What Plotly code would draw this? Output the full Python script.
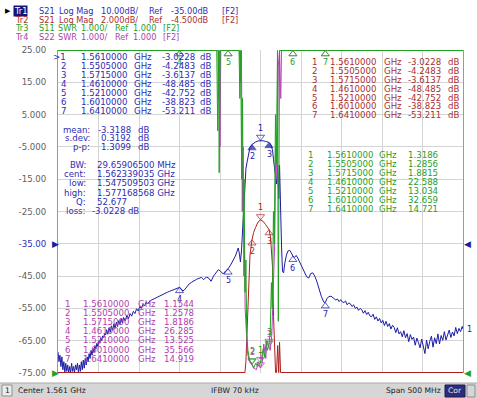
import numpy as np
import plotly.graph_objects as go

# ---------------- data ----------------
f_start, f_stop = 1.311, 1.811          # GHz  (center 1.561 GHz, span 500 MHz)
x_div_vals = [1.311, 1.361, 1.411, 1.461, 1.511, 1.561, 1.611, 1.661, 1.711, 1.761, 1.811]

# S21 (dB) - shown as Tr1 (10 dB/div) and Tr2 (2 dB/div)
s21_pts = [
    (1.3110, -68.5), (1.3122, -71.5), (1.3134, -69.5), (1.3146, -73.0), (1.3158, -70.0), (1.3170, -74.0),
    (1.3182, -71.5), (1.3194, -75.0), (1.3206, -72.0), (1.3218, -74.5), (1.3230, -72.5), (1.3242, -75.0),
    (1.3254, -73.0), (1.3266, -75.0), (1.3278, -72.0), (1.3290, -74.5), (1.3302, -73.0), (1.3314, -75.0),
    (1.3326, -72.5), (1.3338, -74.0), (1.3350, -72.0), (1.3362, -75.0), (1.3374, -72.5), (1.3386, -74.5),
    (1.3398, -71.5), (1.3410, -74.0), (1.3422, -71.0), (1.3434, -73.5), (1.3446, -70.5), (1.3458, -72.5),
    (1.3470, -70.0), (1.3482, -71.5), (1.3494, -69.0), (1.3506, -70.5), (1.3518, -68.0), (1.3530, -69.5),
    (1.3542, -67.5), (1.3554, -68.5), (1.3566, -66.5), (1.3578, -67.5), (1.3590, -65.8), (1.3602, -66.8),
    (1.3614, -65.0), (1.3626, -65.8), (1.3638, -64.2), (1.3650, -65.0), (1.3662, -63.5), (1.3674, -64.0),
    (1.3686, -62.8), (1.3698, -63.2),
    (1.3710, -61.6), (1.3725, -63.0), (1.3740, -61.0), (1.3755, -62.4), (1.3770, -60.4), (1.3785, -61.8),
    (1.3800, -59.8), (1.3815, -61.2), (1.3830, -59.3), (1.3845, -60.6), (1.3860, -58.8), (1.3875, -60.0),
    (1.3890, -58.2), (1.3905, -59.5), (1.3920, -57.8), (1.3940, -58.9), (1.3960, -57.2), (1.3980, -58.2),
    (1.4000, -56.6), (1.4020, -57.4), (1.4040, -55.9), (1.4060, -56.6), (1.4080, -55.1), (1.4100, -55.8),
    (1.4120, -54.4), (1.4140, -55.0), (1.4160, -53.7), (1.4180, -54.2), (1.4200, -53.0), (1.4220, -53.5),
    (1.4250, -52.6), (1.4280, -52.2), (1.4310, -51.8), (1.4340, -51.5),
    (1.4370, -51.2), (1.4400, -50.8), (1.4430, -50.4), (1.4460, -50.0), (1.4490, -49.7), (1.4520, -49.4),
    (1.4550, -49.0), (1.4580, -48.8), (1.4610, -48.485), (1.4630, -48.9), (1.4650, -49.6), (1.4670, -49.3),
    (1.4700, -48.2), (1.4730, -47.4), (1.4760, -46.9), (1.4790, -46.4), (1.4820, -46.0), (1.4850, -45.7),
    (1.4880, -45.4), (1.4910, -46.1), (1.4940, -45.3), (1.4970, -45.6), (1.5000, -46.6), (1.5030, -45.0),
    (1.5060, -43.8), (1.5090, -43.0), (1.5120, -43.6), (1.5150, -44.3), (1.5180, -43.4), (1.5210, -42.752),
    (1.5240, -41.6), (1.5270, -40.4), (1.5300, -38.8), (1.5320, -37.4), (1.5335, -36.3), (1.5350, -38.2),
    (1.5362, -40.6), (1.5375, -37.2), (1.5390, -30.0), (1.5405, -20.0), (1.5418, -14.0), (1.5430, -11.8),
    (1.5445, -9.6), (1.5461, -6.9), (1.5480, -5.2), (1.5505, -4.2483), (1.5525, -3.8), (1.5548, -3.5),
    (1.5580, -3.15), (1.5610, -3.0228), (1.5640, -3.1), (1.5672, -3.3), (1.5715, -3.6137), (1.5734, -4.1),
    (1.5758, -5.9), (1.5771, -9.0), (1.5785, -11.6), (1.5796, -13.8), (1.5808, -16.5), (1.5822, -10.8),
    (1.5835, -21.0), (1.5845, -10.6), (1.5858, -27.0), (1.5870, -36.0), (1.5882, -43.5), (1.5895, -44.0),
    (1.5910, -41.0), (1.5930, -38.5), (1.5950, -37.2), (1.5970, -37.0), (1.5990, -37.8), (1.6010, -38.823),
    (1.6030, -39.2), (1.6050, -38.6), (1.6070, -39.4), (1.6095, -40.8), (1.6120, -42.2), (1.6150, -43.8),
    (1.6180, -45.2), (1.6205, -45.6), (1.6230, -44.2), (1.6255, -44.0), (1.6280, -45.0), (1.6305, -46.6),
    (1.6330, -48.8), (1.6360, -51.2), (1.6390, -53.0), (1.6410, -53.211), (1.6430, -52.0), (1.6450, -51.4),
    (1.6480, -51.2), (1.6500, -51.6),
    (1.652, -51.8), (1.654, -52.4), (1.656, -52.1), (1.658, -52.9), (1.660, -52.3), (1.662, -53.0),
    (1.664, -53.2), (1.666, -52.7), (1.668, -53.9), (1.670, -53.3), (1.672, -53.6), (1.674, -54.4),
    (1.676, -53.9), (1.678, -55.0), (1.680, -54.6), (1.682, -55.6), (1.684, -55.0), (1.686, -55.4),
    (1.688, -56.5), (1.690, -55.7), (1.692, -56.9), (1.694, -56.2), (1.696, -57.3), (1.698, -57.6),
    (1.700, -56.8), (1.702, -58.4), (1.704, -57.6), (1.706, -58.9), (1.708, -58.1), (1.710, -59.5),
    (1.712, -58.7), (1.714, -60.3), (1.716, -59.0), (1.718, -60.6), (1.720, -59.7), (1.722, -61.4),
    (1.724, -60.2), (1.726, -60.9), (1.728, -62.5), (1.730, -61.0), (1.732, -62.9), (1.734, -62.2),
    (1.736, -63.8), (1.738, -61.9), (1.740, -64.1), (1.742, -62.8), (1.744, -65.3), (1.746, -63.1),
    (1.748, -64.6), (1.750, -63.9), (1.752, -66.4), (1.754, -64.2), (1.756, -65.6), (1.758, -67.2),
    (1.760, -64.5), (1.762, -66.9), (1.764, -69.0), (1.766, -64.8), (1.768, -67.5), (1.770, -65.2),
    (1.772, -63.6), (1.774, -67.0), (1.776, -64.1), (1.778, -65.9), (1.780, -62.9), (1.782, -66.0),
    (1.784, -63.4), (1.786, -64.9), (1.788, -62.2), (1.790, -64.8), (1.792, -63.0), (1.794, -61.7),
    (1.796, -64.0), (1.798, -62.3), (1.800, -63.5), (1.802, -60.9), (1.804, -62.8), (1.806, -61.2),
    (1.808, -62.2), (1.810, -60.6), (1.811, -61.4),
]
s21_f = [p[0] for p in s21_pts]
s21_db = [p[1] for p in s21_pts]

# S11 SWR (Tr3)
s11_pts = [
    (1.3110, 28.0), (1.4000, 30.0), (1.4610, 22.588), (1.5070, 16.0), (1.5082, 8.5), (1.5092, 12.0),
    (1.5100, 7.2), (1.5112, 14.0), (1.5210, 13.034), (1.5345, 12.0), (1.5355, 9.5), (1.5365, 11.5),
    (1.5378, 7.0), (1.5388, 9.5), (1.5398, 5.5), (1.5408, 7.0), (1.5418, 3.5), (1.5430, 4.5),
    (1.5440, 2.2), (1.5455, 1.7), (1.5475, 1.4), (1.5505, 1.2856), (1.5525, 1.15), (1.5550, 1.3),
    (1.5575, 1.2), (1.5610, 1.3186), (1.5625, 1.5), (1.5645, 1.75), (1.5660, 1.5), (1.5680, 1.95),
    (1.5695, 1.7), (1.5715, 1.8815), (1.5730, 2.3), (1.5745, 3.8), (1.5755, 3.0), (1.5770, 6.0),
    (1.5780, 5.0), (1.5795, 9.0), (1.5805, 7.5), (1.5820, 11.5), (1.5830, 2.6), (1.5845, 12.0),
    (1.6010, 32.659), (1.6410, 14.721), (1.7000, 25.0), (1.8110, 28.0),
]
s11_f = [p[0] for p in s11_pts]
s11_swr = [p[1] for p in s11_pts]

# S22 SWR (Tr4)
s22_pts = [
    (1.3110, 30.0), (1.4610, 26.285), (1.5085, 20.0), (1.5095, 9.5), (1.5105, 13.0), (1.5110, 8.0),
    (1.5120, 14.0), (1.5210, 13.525), (1.5350, 12.0), (1.5365, 10.0), (1.5375, 11.2), (1.5385, 6.0),
    (1.5395, 8.0), (1.5405, 4.0), (1.5410, 5.5), (1.5420, 3.0), (1.5435, 2.2), (1.5450, 1.6),
    (1.5475, 1.35), (1.5505, 1.2578), (1.5530, 1.15), (1.5560, 1.1), (1.5580, 1.35), (1.5610, 1.1544),
    (1.5630, 1.3), (1.5650, 1.9), (1.5675, 1.45), (1.5690, 2.0), (1.5715, 1.8186), (1.5730, 1.7),
    (1.5750, 2.2), (1.5770, 3.5), (1.5785, 5.0), (1.5800, 8.0), (1.5815, 7.0), (1.5830, 10.5),
    (1.5845, 11.5), (1.5860, 9.5), (1.5870, 14.0), (1.6010, 35.566), (1.6410, 14.919), (1.7000, 25.0),
    (1.8110, 30.0),
]
s22_f = [p[0] for p in s22_pts]
s22_swr = [p[1] for p in s22_pts]

# markers
mk_freq = [1.5610000, 1.5505000, 1.5715000, 1.4610000, 1.5210000, 1.6010000, 1.6410000]
mk_s21 = [-3.0228, -4.2483, -3.6137, -48.485, -42.752, -38.823, -53.211]
mk_s11 = [1.3186, 1.2856, 1.8815, 22.588, 13.034, 32.659, 14.721]
mk_s22 = [1.1544, 1.2578, 1.8186, 26.285, 13.525, 35.566, 14.919]

stat_names = ["mean:", "s.dev:", "p-p:"]
stat_vals = [-3.3188, 0.3192, 1.3099]
bw_names = ["BW:", "cent:", "low:", "high:", "Q:", "loss:"]
bw_vals = ["29.65906500 MHz", "1.562339035 GHz", "1.547509503 GHz", "1.577168568 GHz", "52.677", "-3.0228 dB"]

y_tick_vals = [25, 15, 5, -5, -15, -25, -35, -45, -55, -65, -75]
y_tick_text = ["25.00", "15.00", "5.000", "-5.000", "-15.00", "-25.00", "-35.00", "-45.00", "-55.00", "-65.00", "-75.00"]

tr1_range = [-75, 25]
tr2_range = [-12.5, 7.5]
swr_range = [1, 11]

header_words = [
    ["Tr1", "S21", "Log Mag", "10.00dB/", "Ref", "-35.00dB", "[F2]"],
    ["Tr2", "S21", "Log Mag", "2.000dB/", "Ref", "-4.500dB", "[F2]"],
    ["Tr3", "S11", "SWR", "1.000/", "Ref", "1.000", "[F2]"],
    ["Tr4", "S22", "SWR", "1.000/", "Ref", "1.000", "[F2]"],
]
status_center = "Center 1.561 GHz"
status_ifbw = "IFBW 70 kHz"
status_span = "Span 500 MHz"

# ---------------- style / layout ----------------
W, H = 477, 398
L, R, T, B = 58, 463, 50, 373
PW, PH = R - L, B - T
FONT = "DejaVu Sans"
FS = 8.6
C_BLUE = "#1c1ca6"
C_RED = "#b01e1e"
C_GREEN = "#22a022"
C_MAG = "#bb44bb"
T_BLUE = "#2d2db4"
T_RED = "#a83030"
T_GREEN = "#2a9e2a"
T_MAG = "#b040b0"
GRID = "#d4d4d4"


def px(x):
    return (x - L) / PW


def py(y):
    return (B - y) / PH


def disp(vals, rng):
    eps = (rng[1] - rng[0]) / PH * 0.5
    return np.clip(np.asarray(vals, dtype=float), rng[0] + eps, rng[1] - eps)


ann = []


def txt(x, y, s, color, size=FS, anchor="left", family=FONT, **kw):
    d = dict(x=px(x), y=py(y), xref="paper", yref="paper", text=s, showarrow=False,
             xanchor=anchor, yanchor="middle", font=dict(family=family, size=size, color=color))
    d.update(kw)
    ann.append(d)


def fmt5(v):
    return f"{v:.4f}" if abs(v) < 10 else f"{v:.3f}"


fig = go.Figure()
fig.add_trace(go.Scatter(x=s22_f, y=disp(s22_swr, swr_range), yaxis="y3", mode="lines",
                         line=dict(color=C_MAG, width=1), hoverinfo="skip"))
fig.add_trace(go.Scatter(x=s11_f, y=disp(s11_swr, swr_range), yaxis="y3", mode="lines",
                         line=dict(color=C_GREEN, width=1), hoverinfo="skip"))
fig.add_trace(go.Scatter(x=s21_f, y=disp(s21_db, tr2_range), yaxis="y2", mode="lines",
                         line=dict(color=C_RED, width=1), hoverinfo="skip"))
fig.add_trace(go.Scatter(x=s21_f, y=disp(s21_db, tr1_range), yaxis="y", mode="lines",
                         line=dict(color=C_BLUE, width=1), hoverinfo="skip"))

# stimulus triangles under the grid (Tr1 markers)
u1 = (tr1_range[1] - tr1_range[0]) / PH
fig.add_trace(go.Scatter(
    x=mk_freq, y=[tr1_range[0] - 5.5 * u1] * len(mk_freq), yaxis="y", mode="markers", cliponaxis=False,
    marker=dict(symbol=["triangle-up"] + ["triangle-up-open"] * 6, size=[10] + [9] * 6,
                color=C_BLUE, line=dict(color=C_BLUE, width=1)), hoverinfo="skip"))


def add_markers(vals, rng, yref, color, filled=(), top_labels=True):
    span = rng[1] - rng[0]
    u = span / PH
    xs, ys, syms, sizes = [], [], [], []
    for i, (f, v) in enumerate(zip(mk_freq, vals)):
        n = str(i + 1)
        if v < rng[0]:
            xs.append(f); ys.append(rng[0] - 5.5 * u); syms.append("triangle-up-open"); sizes.append(6)
            continue
        clipped_top = v > rng[1]
        vc = min(v, rng[1] - 0.5 * u)
        above = (i == 0) or (vc - rng[0] < 0.1 * span)
        if above:
            xs.append(f); ys.append(vc + 3.5 * u); syms.append("triangle-down-open"); sizes.append(7)
            ann.append(dict(x=f, y=vc, xref="x", yref=yref, text=n, showarrow=False,
                            yshift=12, font=dict(family=FONT, size=8, color=color)))
        else:
            xs.append(f); ys.append(vc - 3.5 * u)
            syms.append("triangle-up" if i in filled else "triangle-up-open"); sizes.append(7)
            if top_labels or not clipped_top:
                ann.append(dict(x=f, y=vc, xref="x", yref=yref, text=n, showarrow=False,
                                yshift=-12, font=dict(family=FONT, size=8, color=color)))
    fig.add_trace(go.Scatter(x=xs, y=ys, yaxis=yref, mode="markers", cliponaxis=False,
                             marker=dict(symbol=syms, size=sizes, color=color,
                                         line=dict(color=color, width=1)), hoverinfo="skip"))


add_markers(mk_s22, swr_range, "y3", C_MAG, top_labels=False)
add_markers(mk_s11, swr_range, "y3", C_GREEN)
add_markers(mk_s21, tr2_range, "y2", C_RED)
add_markers(mk_s21, tr1_range, "y", C_BLUE, filled=(1, 2))

# trace end label
ann.append(dict(x=s21_f[-1], y=s21_db[-1], xref="x", yref="y", text="1", showarrow=False,
                xanchor="left", xshift=2, font=dict(family=FONT, size=8, color=C_BLUE)))

# ---- marker tables ----
for i in range(7):
    y = 56.7 + i * 9.05
    txt(68, y, (">" if i == 0 else "") + str(i + 1), T_BLUE, anchor="right")
    txt(79, y, f"{mk_freq[i]:.7f}", T_BLUE)
    txt(132, y, "GHz", T_BLUE)
    txt(197, y, fmt5(mk_s21[i]), T_BLUE, anchor="right")
    txt(198, y, "dB", T_BLUE)

    y = 62.3 + i * 8.8
    txt(319, y, str(i + 1), T_RED, anchor="right")
    txt(328, y, f"{mk_freq[i]:.7f}", T_RED)
    txt(382, y, "GHz", T_RED)
    txt(443, y, fmt5(mk_s21[i]), T_RED, anchor="right")
    txt(446, y, "dB", T_RED)

    y = 155 + i * 9.0
    txt(315, y, str(i + 1), T_GREEN, anchor="right")
    txt(325, y, f"{mk_freq[i]:.7f}", T_GREEN)
    txt(377, y, "GHz", T_GREEN)
    txt(440, y, fmt5(mk_s11[i]), T_GREEN, anchor="right")

    y = 304 + i * 9.1
    txt(72, y, str(i + 1), T_MAG, anchor="right")
    txt(81, y, f"{mk_freq[i]:.7f}", T_MAG)
    txt(136, y, "GHz", T_MAG)
    txt(196, y, fmt5(mk_s22[i]), T_MAG, anchor="right")

for i, (nm, v) in enumerate(zip(stat_names, stat_vals)):
    y = 130 + i * 8.35
    txt(92, y, nm, T_BLUE, anchor="right")
    txt(133, y, f"{v:.4f}", T_BLUE, anchor="right")
    txt(136, y, "dB", T_BLUE)

for i, (nm, v) in enumerate(zip(bw_names, bw_vals)):
    y = 165 + i * 9.2
    txt(88, y, nm, T_BLUE, anchor="right")
    txt(90 if v.startswith("-") else 95, y, v, T_BLUE)

# ---- header ----
HFS = 8.2
header_x = [[13, 37, 57, 99, 147, 169, 220], [13, 37, 57, 99, 147, 169, 220],
            [13, 37, 56, 79, 113, 131, 161], [13, 37, 56, 79, 113, 131, 161]]
header_y = [11.5, 20, 28.3, 36.7]
header_col = [T_BLUE, T_RED, T_GREEN, T_MAG]
for li, words in enumerate(header_words):
    for wi, w in enumerate(words):
        if li == 0 and wi == 0:
            txt(header_x[li][wi], header_y[li], w, "#ffffff", size=HFS, bgcolor="#14147a", borderpad=0)
        else:
            txt(header_x[li][wi], header_y[li], w, header_col[li], size=HFS)
txt(8, 11.5, "▶", "#000000", size=7, anchor="center")

# ---- reference arrows ----
txt(55, 244, "▶", C_BLUE, size=9, anchor="center")
txt(55, 373, "▶", C_GREEN, size=9, anchor="center")
txt(467, 244, "◀", C_BLUE, size=9, anchor="center")
txt(467, 373, "◀", C_GREEN, size=9, anchor="center")

# ---- status bar ----
shapes = [
    dict(type="rect", xref="paper", yref="paper", x0=px(0), x1=px(W), y0=py(398), y1=py(383),
         fillcolor="#d6d6d6", line=dict(width=0), layer="above"),
    dict(type="line", xref="paper", yref="paper", x0=px(0), x1=px(W), y0=py(383), y1=py(383),
         line=dict(color="#a8a8a8", width=1), layer="above"),
    dict(type="rect", xref="paper", yref="paper", x0=px(2), x1=px(12), y0=py(396), y1=py(385),
         fillcolor="#ececec", line=dict(color="#909090", width=1), layer="above"),
    dict(type="rect", xref="paper", yref="paper", x0=px(445), x1=px(465), y0=py(397), y1=py(385),
         fillcolor="#2c2c7c", line=dict(color="#1a1a50", width=1), layer="above"),
    dict(type="rect", xref="paper", yref="paper", x0=px(467), x1=px(475), y0=py(397), y1=py(385),
         fillcolor="#d6d6d6", line=dict(color="#909090", width=1), layer="above"),
]
SFS = 7.6
txt(7, 390.5, "1", "#202020", size=SFS, anchor="center")
txt(16, 390.5, status_center, "#202020", size=SFS)
txt(235, 390.5, status_ifbw, "#202020", size=SFS, anchor="center")
txt(384, 390.5, status_span, "#202020", size=SFS)
txt(455, 390.5, "Cor", "#e8e8e8", size=SFS, anchor="center")

tick_text = [f'<span style="color:{T_BLUE}">{t}</span>' if v == -35 else t
             for v, t in zip(y_tick_vals, y_tick_text)]

fig.update_layout(
    width=W, height=H,
    margin=dict(l=L, r=W - R, t=T, b=H - B, pad=0),
    paper_bgcolor="white", plot_bgcolor="white",
    showlegend=False,
    font=dict(family=FONT, size=FS, color="#606060"),
    xaxis=dict(range=[f_start, f_stop], tickvals=x_div_vals, showticklabels=False, ticks="",
               showgrid=True, gridcolor=GRID, gridwidth=1, zeroline=False, showline=False),
    yaxis=dict(range=tr1_range, tickvals=y_tick_vals, ticktext=tick_text, ticks="",
               ticklabelstandoff=9, showgrid=True, gridcolor=GRID, gridwidth=1, zeroline=False,
               showline=True, linecolor="#9a9a9a", linewidth=1, mirror=True,
               tickfont=dict(family=FONT, size=FS, color="#606060")),
    yaxis2=dict(range=tr2_range, overlaying="y", visible=False),
    yaxis3=dict(range=swr_range, overlaying="y", visible=False),
    annotations=ann,
    shapes=shapes,
)

fig.write_html("out.html")
